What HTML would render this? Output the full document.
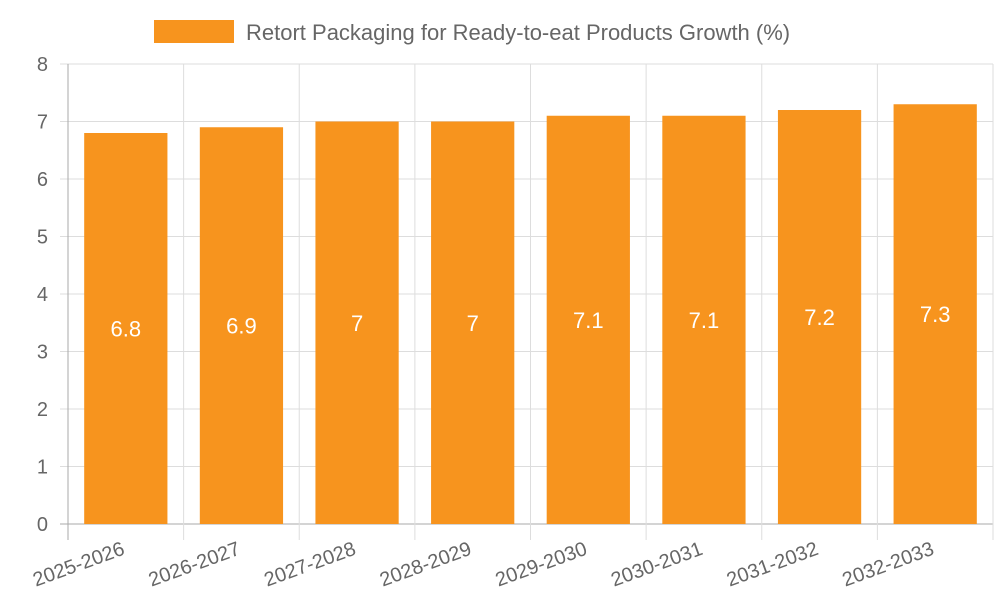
<!DOCTYPE html>
<html><head><meta charset="utf-8"><style>
html,body{margin:0;padding:0;background:#fff;}
svg{display:block;font-family:"Liberation Sans",sans-serif;}
</style></head><body>
<svg id="chart" width="1000" height="600">
<g>
<rect x="154" y="20" width="80" height="23" fill="#f7941e"></rect>
<text x="246" y="40" font-size="22" fill="#666">Retort Packaging for Ready-to-eat Products Growth (%)</text>
</g>
<g id="grid"></g><g id="bars"></g><g id="axes"></g>
</svg>
<script>
const categories=["2025-2026","2026-2027","2027-2028","2028-2029","2029-2030","2030-2031","2031-2032","2032-2033"];
const values=[6.8,6.9,7,7,7.1,7.1,7.2,7.3];
const yTicks=[0,1,2,3,4,5,6,7,8];
const NS="http://www.w3.org/2000/svg";
const L=68,R=993,T=64,B=524,yMax=8;
const y=v=>B-(v/yMax)*(B-T);
const bw=(R-L)/categories.length;
const x=i=>L+bw*i;
function mk(tag,attrs,parent){const e=document.createElementNS(NS,tag);for(const k in attrs)e.setAttribute(k,attrs[k]);parent.appendChild(e);return e;}
const grid=document.getElementById('grid'),bars=document.getElementById('bars'),axes=document.getElementById('axes');
yTicks.forEach(t=>{
 const ln=mk('line',{x1:L-8,x2:R,y1:y(t),y2:y(t),stroke:t===0?'#aaa':'#ddd','stroke-width':1},grid);
 
 
 const tx=mk('text',{x:L-20,y:y(t)+7,'text-anchor':'end','font-size':20,fill:'#666'},axes);
 tx.textContent=t;
 
 
});
for(let i=0;i<=categories.length;i++){
 const ln=mk('line',{x1:x(i),x2:x(i),y1:T,y2:B+16,stroke:i===0?'#aaa':'#ddd','stroke-width':1},grid);
 
 
}
categories.forEach((c,i)=>{
 const cx=x(i)+bw/2,w=bw*0.72;
 const r=mk('rect',{x:cx-w/2,y:y(values[i]),width:w,height:B-y(values[i]),fill:'#f7941e'},bars);
 
 
 const v=mk('text',{x:cx,y:(y(values[i])+B)/2+8,'text-anchor':'middle','font-size':22,fill:'#fff'},bars);
 v.textContent=values[i];
 
 
 const tl=mk('text',{x:cx,y:B+30,'text-anchor':'end','font-size':20,fill:'#666',transform:`rotate(-20 ${cx} ${B+30})`},axes);
 tl.textContent=c;
 
 
});
</script>
</body></html>
